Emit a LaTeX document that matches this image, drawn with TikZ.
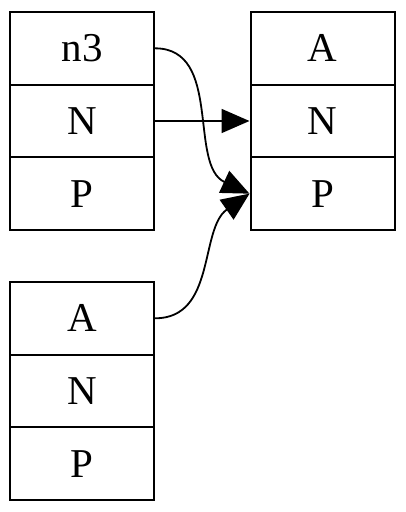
\documentclass[tikz,border=0pt]{standalone}
\usepackage{fontspec}
\setmainfont{Liberation Serif}
\usetikzlibrary{arrows.meta}

\begin{document}
\begin{tikzpicture}[x=1pt, y=1pt,
		field/.style = {draw, line width=2pt, minimum width=144pt, minimum height=72.67pt,
			inner sep=0pt, font=\fontsize{41}{48}\selectfont},
		link/.style = {line width=1.8pt, -{Triangle[length=28pt, width=24pt]}}]
				\useasboundingbox (0, 0) rectangle (406, 512);
				\node[field] (n3) at (82, 463.67) {n3};
				\node[field] (n3N) at (82, 391) {N};
				\node[field] (n3P) at (82, 318.33) {P};

				\node[field] (rA) at (322.5, 463.67) {A};
				\node[field] (rN) at (322.5, 391) {N};
				\node[field] (rP) at (322.5, 318.33) {P};

				\node[field] (bA) at (82, 193.67) {A};
				\node[field] (bN) at (82, 121) {N};
				\node[field] (bP) at (82, 48.33) {P};

				\draw[link] (n3.east) to[out=0, in=155] (rP.west);
				\draw[link] (n3N.east) to (rN.west);
				\draw[link] (bA.east) to[out=0, in=215] (rP.west);
			\end{tikzpicture}
\end{document}
